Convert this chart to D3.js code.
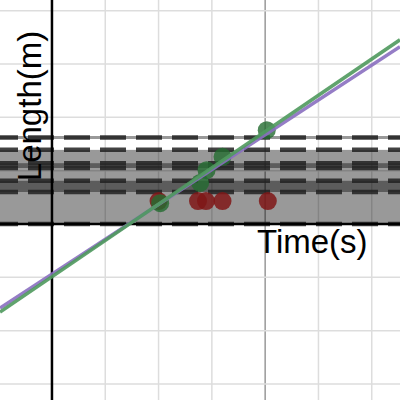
<!DOCTYPE html><html><head><script src="https://cdn.jsdelivr.net/npm/d3@7"></script>
<style>body{margin:0}svg{display:block}</style></head><body><script>
const gridX=[-1,0,1,2,3,4,5,6];
const gridY=[-3,-2,-1,0,1,2,3,4];
const redX=[2.0,2.74,2.89,3.2,4.05];
const redY=[0.43,0.43,0.43,0.43,0.43];
const greenX=[2.03,2.78,2.9,3.2,4.03];
const greenY=[0.39,0.77,1.01,1.26,1.76];
const dashY=[1.62,1.39,1.14,1.05,0.81,0.60,0.0];
const bands=[[0,1.39],[1.05,1.14],[0.60,0.81]];
const lines=[{m:0.653,b:-0.94,c:"#8a6fc0"},{m:0.68,b:-0.987,c:"#4f9a5e"}];
const W=400,H=400;
const x=d3.scaleLinear().domain([-0.975,6.53]).range([0,W]);
const y=d3.scaleLinear().domain([-3.3,4.2]).range([H,0]);
const svg=d3.select("body").append("svg").attr("width",W).attr("height",H);
svg.append("rect").attr("width",W).attr("height",H).attr("fill","#fff");
svg.selectAll(".gx").data(gridX).join("line").attr("x1",d=>x(d)).attr("x2",d=>x(d)).attr("y1",0).attr("y2",H).attr("stroke",d=>d===4?"#999":"#ddd").attr("stroke-width",1.5);
svg.selectAll(".gy").data(gridY).join("line").attr("y1",d=>y(d)).attr("y2",d=>y(d)).attr("x1",0).attr("x2",W).attr("stroke","#ddd").attr("stroke-width",1.5);
svg.selectAll(".band").data(bands).join("rect").attr("x",0).attr("width",W).attr("y",d=>y(d[1])).attr("height",d=>y(d[0])-y(d[1])).attr("fill","#000").attr("opacity",0.4);
svg.append("line").attr("x1",0).attr("x2",W).attr("y1",y(dashY[0])).attr("y2",y(dashY[0])).attr("stroke","#999").attr("stroke-width",3);
svg.selectAll(".dl").data(dashY).join("line").attr("x1",0).attr("x2",W).attr("y1",d=>y(d)).attr("y2",d=>y(d)).attr("stroke","#222").attr("stroke-width",4.5).attr("stroke-dasharray","26,10").attr("stroke-dashoffset",8).attr("opacity",0.85);
svg.append("line").attr("x1",x(0)).attr("x2",x(0)).attr("y1",0).attr("y2",H).attr("stroke","#000").attr("stroke-width",2.5);
svg.append("line").attr("y1",y(0)).attr("y2",y(0)).attr("x1",0).attr("x2",W).attr("stroke","#000").attr("stroke-width",2.5);
svg.selectAll(".rp").data(redX).join("circle").attr("cx",d=>x(d)).attr("cy",(d,i)=>y(redY[i])).attr("r",9).attr("fill","#7f1616").attr("opacity",0.85);
svg.selectAll(".gp").data(greenX).join("circle").attr("cx",d=>x(d)).attr("cy",(d,i)=>y(greenY[i])).attr("r",9).attr("fill","#236b30").attr("opacity",0.8);
const dom=x.domain();
lines.forEach(l=>svg.append("line").attr("x1",x(dom[0])).attr("y1",y(l.m*dom[0]+l.b)).attr("x2",x(dom[1])).attr("y2",y(l.m*dom[1]+l.b)).attr("stroke",l.c).attr("stroke-width",3.5).attr("opacity",0.9));
svg.append("text").attr("x",257).attr("y",253).attr("font-family","Liberation Sans, Arial").attr("font-size",33).attr("fill","#000").text("Time(s)");
svg.append("text").attr("transform","translate(41,106) rotate(-90)").attr("text-anchor","middle").attr("font-family","Liberation Sans, Arial").attr("font-size",33).attr("fill","#000").text("Length(m)");
</script></body></html>
